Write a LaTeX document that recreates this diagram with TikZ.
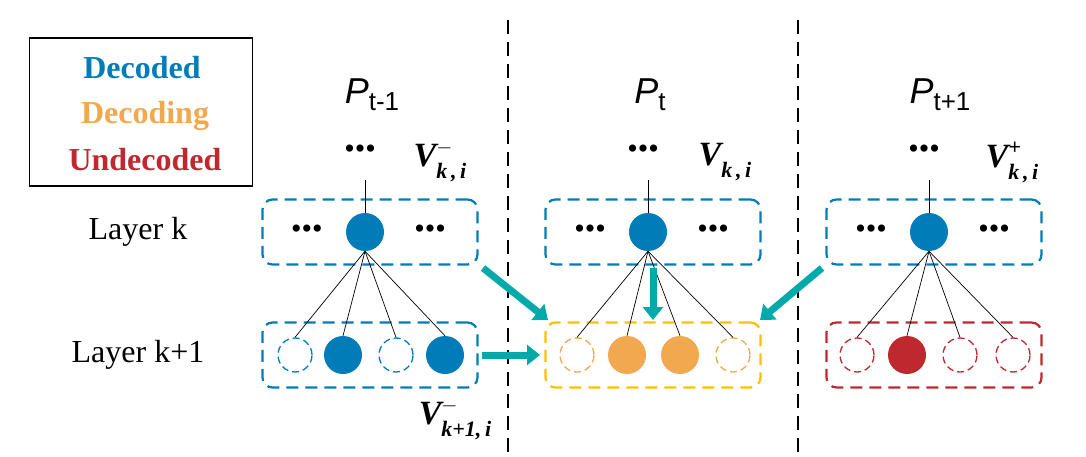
\documentclass[tikz,border=0pt]{standalone}
\usepackage{fontspec}
\usetikzlibrary{arrows.meta}
\newfontfamily\lsans{Liberation Sans}
\setmainfont{Liberation Serif}
\definecolor{cblue}{RGB}{0,125,185}
\definecolor{corange}{RGB}{242,168,78}
\definecolor{cyellow}{RGB}{255,192,0}
\definecolor{cred}{RGB}{192,40,48}
\definecolor{cteal}{RGB}{0,170,170}
\newcommand{\vsym}[2]{\bfseries\itshape V\rlap{\raisebox{13pt}{\fontsize{22}{22}\selectfont #1}}\raisebox{-12pt}{\fontsize{22}{22}\selectfont #2}}
\newcommand{\ptxt}[1]{{\itshape P}\raisebox{-7pt}{\fontsize{26}{26}\selectfont #1}}
\begin{document}
\begin{tikzpicture}[x=1pt,y=-1pt,
 box/.style={draw,line width=2.2pt,dash pattern=on 12pt off 7pt,rounded corners=10pt,minimum width=215pt,minimum height=65pt},
 full/.style={circle,fill=#1,minimum size=38pt,inner sep=0pt},
 empty/.style={circle,draw=#1,line width=1.3pt,dash pattern=on 7pt off 4pt,minimum size=34pt,inner sep=0pt},
 dots/.style={font=\fontsize{30}{30}\selectfont,inner sep=0pt},
 arr/.style={cteal,line width=7pt,-{Triangle[length=13pt,width=20pt]}},
 lay/.style={font=\fontsize{32}{32}\selectfont},
 ptitle/.style={font=\lsans\fontsize{36}{36}\selectfont},
 vlab/.style={font=\fontsize{34}{34}\selectfont}]
\useasboundingbox (0,0) rectangle (1086,457);
\node[draw,line width=1.6pt,minimum width=223pt,minimum height=148pt] (leg) at (141,112) {};
\node[font=\fontsize{32}{32}\selectfont\bfseries,text=cblue] (l1) at (142,68) {Decoded};
\node[font=\fontsize{32}{32}\selectfont\bfseries,text=corange] (l2) at (145,116) {Decoding};
\node[font=\fontsize{32}{32}\selectfont\bfseries,text=cred] (l3) at (145,160) {Undecoded};
\coordinate (d1t) at (508,20); \coordinate (d1b) at (508,457);
\coordinate (d2t) at (798,20); \coordinate (d2b) at (798,457);
\draw[line width=2.2pt,dash pattern=on 14pt off 8pt] (d1t)--(d1b) (d2t)--(d2b);
\node[lay] (lk) at (138,232) {Layer k};
\node[lay] (lk1) at (138,355) {Layer k+1};
\foreach \n/\cx in {A/370, B/653, C/934}{
 \node[box,draw=cblue] (\n top) at (\cx,232) {};
 \node[full=cblue] (\n c) at (\cx-5,232) {};
 \node[dots] (\n dl) at (\cx-63,232) {\textbullet\textbullet\textbullet};
 \node[dots] (\n dr) at (\cx+60,232) {\textbullet\textbullet\textbullet};
 \node[dots] (\n du) at (\cx-10,152) {\textbullet\textbullet\textbullet};
 \coordinate (\n up) at (\cx-5,180);
 \draw[line width=0.7pt] (\n c.north)--(\n up);
}
\node[box,draw=cblue] (Abot) at (370,355) {};
\node[box,draw=cyellow] (Bbot) at (653,355) {};
\node[box,draw=cred] (Cbot) at (934,355) {};
\node[empty=cblue] (A1) at (295,355) {};
\node[full=cblue] (A2) at (343,355) {};
\node[empty=cblue] (A3) at (396,355) {};
\node[full=cblue] (A4) at (445,355) {};
\node[empty=corange] (B1) at (577,355) {};
\node[full=corange] (B2) at (627,355) {};
\node[full=corange] (B3) at (680,355) {};
\node[empty=corange] (B4) at (733,355) {};
\node[empty=cred] (C1) at (857,355) {};
\node[full=cred] (C2) at (907,355) {};
\node[empty=cred] (C3) at (960,355) {};
\node[empty=cred] (C4) at (1013,355) {};
\foreach \n in {A,B,C}{
 \foreach \i in {1,2,3,4}{\draw[line width=0.7pt] (\n c.south)--(\n\i.north);}
}
\node[ptitle] (pA) at (372,95) {\ptxt{t-1}};
\node[ptitle] (pB) at (650,95) {\ptxt{t}};
\node[ptitle] (pC) at (940,95) {\ptxt{t+1}};
\node[vlab] (vA) at (440,162) {\vsym{$-$}{k\,,\,i}};
\node[vlab] (vB) at (725,162) {\vsym{}{k\,,\,i}};
\node[vlab] (vC) at (1012,162) {\vsym{+}{k\,,\,i}};
\node[vlab] (vD) at (455,420) {\vsym{$-$}{k+1,\,i}};
\coordinate (a1s) at (483,268); \coordinate (a1e) at (548,320);
\coordinate (a2s) at (482,355); \coordinate (a2e) at (540,355);
\coordinate (a3s) at (653,268); \coordinate (a3e) at (653,320);
\coordinate (a4s) at (822,268); \coordinate (a4e) at (760,320);
\draw[arr] (a1s)--(a1e);
\draw[arr] (a2s)--(a2e);
\draw[arr] (a3s)--(a3e);
\draw[arr] (a4s)--(a4e);
\end{tikzpicture}
\end{document}
